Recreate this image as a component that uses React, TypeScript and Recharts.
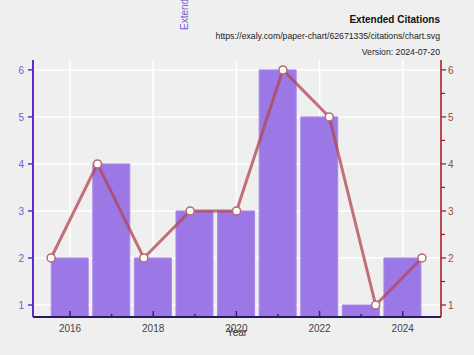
import { ComposedChart, Bar, Line, XAxis, YAxis, CartesianGrid } from 'recharts';

const years = [2016, 2017, 2018, 2019, 2020, 2021, 2022, 2023, 2024];
const citations = [2, 4, 2, 3, 3, 6, 5, 1, 2];
const evenYears = [2016, 2018, 2020, 2022, 2024];
const leftTicks = [1, 2, 3, 4, 5, 6];
const rightTicks = [1, 1.5, 2, 2.5, 3, 3.5, 4, 4.5, 5, 5.5, 6];

const data = years.map((year, i) => ({ year, value: citations[i] }));

const font = 'Arial, "Liberation Sans", sans-serif';
const purple = '#5a2cd0';
const red = '#a01818';

const XTick = (props: any) => {
  const { x, y, payload } = props;
  const major = payload.value % 2 === 0;
  return (
    <g>
      <line x1={x} x2={x} y1={y} y2={y - (major ? 6 : 3)} stroke="#3a1c80" strokeWidth={1.5} />
      {major && (
        <text x={x} y={y + 15} textAnchor="middle" fontSize={10} fill="#444" fontFamily={font}>
          {payload.value}
        </text>
      )}
    </g>
  );
};

const LeftTick = (props: any) => {
  const { x, y, payload } = props;
  return (
    <g>
      <line x1={x - 5} x2={x} y1={y} y2={y} stroke={purple} strokeWidth={1.5} />
      <text x={x - 9} y={y + 4} textAnchor="end" fontSize={10} fill="#7060d0" fontFamily={font}>
        {payload.value}
      </text>
    </g>
  );
};

const RightTick = (props: any) => {
  const { x, y, payload } = props;
  const major = Number.isInteger(payload.value);
  return (
    <g>
      <line x1={x} x2={x + (major ? 5 : 4)} y1={y} y2={y} stroke={red} strokeWidth={1.2} />
      {major && (
        <text x={x + 7} y={y + 4} textAnchor="start" fontSize={10} fill="#a04848" fontFamily={font}>
          {payload.value}
        </text>
      )}
    </g>
  );
};

export default function App() {
  return (
    <div style={{ position: 'absolute', left: 0, top: 0, width: 474, height: 355, background: '#efefef' }}>
      <ComposedChart
        width={474}
        height={355}
        data={data}
        margin={{ top: 60, right: 0, left: 0, bottom: 0 }}
      >
        <CartesianGrid
          xAxisId="bar"
          yAxisId="left"
          horizontalValues={leftTicks}
          verticalValues={evenYears}
          stroke="#ffffff"
          strokeWidth={1.5}
        />
        <XAxis
          xAxisId="bar"
          dataKey="year"
          type="number"
          domain={[2015.11, 2024.92]}
          allowDataOverflow
          ticks={years}
          interval={0}
          height={38}
          tickSize={0}
          tickMargin={0}
          tick={<XTick />}
          axisLine={{ stroke: '#2a1860', strokeWidth: 2 }}
          tickLine={false}
        />
        <XAxis
          xAxisId="line"
          dataKey="year"
          type="number"
          domain={[2015.61, 2024.41]}
          allowDataOverflow
          hide
        />
        <YAxis
          yAxisId="left"
          orientation="left"
          type="number"
          domain={[0.745, 6.21]}
          allowDataOverflow
          ticks={leftTicks}
          interval={0}
          width={33}
          tickSize={0}
          tickMargin={0}
          tick={<LeftTick />}
          tickLine={false}
          axisLine={{ stroke: purple, strokeWidth: 2 }}
        />
        <YAxis
          yAxisId="right"
          orientation="right"
          type="number"
          domain={[0.745, 6.21]}
          allowDataOverflow
          ticks={rightTicks}
          interval={0}
          width={33}
          tickSize={0}
          tickMargin={0}
          tick={<RightTick />}
          tickLine={false}
          axisLine={{ stroke: red, strokeWidth: 1.5 }}
        />
        <Bar
          xAxisId="bar"
          yAxisId="left"
          dataKey="value"
          fill="#9b78e6"
          stroke="#a88ae8"
          strokeWidth={1}
          barSize={37}
          isAnimationActive={false}
        />
        <Line
          xAxisId="line"
          yAxisId="right"
          dataKey="value"
          stroke="rgba(178, 70, 80, 0.75)"
          strokeWidth={3}
          dot={{ r: 4, fill: '#ffffff', stroke: '#b86a72', strokeWidth: 1.5 }}
          isAnimationActive={false}
        />
      </ComposedChart>
      <svg
        width={474}
        height={355}
        style={{ position: 'absolute', left: 0, top: 0, pointerEvents: 'none' }}
        fontFamily={font}
      >
        <text x={188} y={30} transform="rotate(-90 188 30)" fontSize={10} fill="#7b5ce0">
          Extended Citations
        </text>
        <text x={440} y={23} textAnchor="end" fontSize={10} fontWeight="bold" fill="#111">
          Extended Citations
        </text>
        <text x={440} y={39} textAnchor="end" fontSize={8.7} fill="#222">
          https://exaly.com/paper-chart/62671335/citations/chart.svg
        </text>
        <text x={440} y={55} textAnchor="end" fontSize={8.7} fill="#222">
          Version: 2024-07-20
        </text>
        <text x={237} y={336} textAnchor="middle" fontSize={10} fill="#333">
          Year
        </text>
      </svg>
    </div>
  );
}
